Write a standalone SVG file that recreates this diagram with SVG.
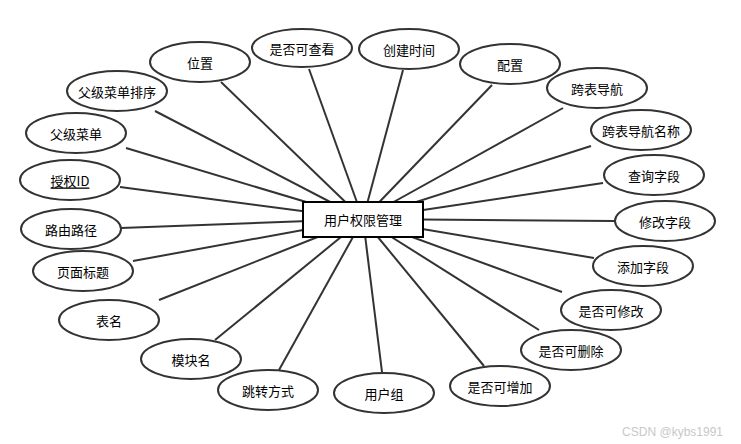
<svg xmlns="http://www.w3.org/2000/svg" width="741" height="444" viewBox="0 0 741 444">
<style>
.e{fill:#fff;stroke:#333;stroke-width:2}
.c line{stroke:#333;stroke-width:2}
text{font-family:"Noto Sans CJK SC","Liberation Sans",sans-serif;font-size:13px;fill:#000;text-anchor:middle;dominant-baseline:central}
</style>
<rect width="741" height="444" fill="#fff"/>
<g id="connectors" class="c">
<line x1="221" y1="82" x2="363" y2="219"/>
<line x1="309" y1="69" x2="363" y2="219"/>
<line x1="403" y1="70" x2="363" y2="219"/>
<line x1="492" y1="85" x2="363" y2="219"/>
<line x1="563" y1="108" x2="363" y2="219"/>
<line x1="591" y1="146" x2="363" y2="219"/>
<line x1="603" y1="183" x2="363" y2="219"/>
<line x1="615" y1="221" x2="363" y2="219"/>
<line x1="594" y1="258" x2="363" y2="219"/>
<line x1="562" y1="292" x2="363" y2="219"/>
<line x1="539" y1="330" x2="363" y2="219"/>
<line x1="484" y1="366" x2="363" y2="219"/>
<line x1="382" y1="372" x2="363" y2="219"/>
<line x1="279" y1="370" x2="363" y2="219"/>
<line x1="215" y1="340" x2="363" y2="219"/>
<line x1="159" y1="300" x2="363" y2="219"/>
<line x1="133" y1="261" x2="363" y2="219"/>
<line x1="121" y1="228" x2="363" y2="219"/>
<line x1="120" y1="187" x2="363" y2="219"/>
<line x1="126" y1="148" x2="363" y2="219"/>
<line x1="155" y1="111" x2="363" y2="219"/>
</g>
<g id="main"><rect x="303" y="202" width="120" height="35" fill="#fff" stroke="#000" stroke-width="2"/><text x="363" y="219.5">用户权限管理</text></g>
<g id="n1"><ellipse class="e" cx="200" cy="62" rx="50" ry="20"/><text x="200" y="62">位置</text></g>
<g id="n2"><ellipse class="e" cx="302" cy="48" rx="50" ry="19"/><text x="302" y="48">是否可查看</text></g>
<g id="n3"><ellipse class="e" cx="409" cy="49" rx="50" ry="20"/><text x="409" y="49">创建时间</text></g>
<g id="n4"><ellipse class="e" cx="510" cy="64" rx="50" ry="20"/><text x="510" y="64">配置</text></g>
<g id="n5"><ellipse class="e" cx="597" cy="88" rx="50" ry="20"/><text x="597" y="88">跨表导航</text></g>
<g id="n6"><ellipse class="e" cx="641" cy="130" rx="50" ry="20"/><text x="641" y="130">跨表导航名称</text></g>
<g id="n7"><ellipse class="e" cx="654" cy="175" rx="50" ry="20"/><text x="654" y="175">查询字段</text></g>
<g id="n8"><ellipse class="e" cx="665" cy="221" rx="50" ry="20"/><text x="665" y="221">修改字段</text></g>
<g id="n9"><ellipse class="e" cx="643" cy="266" rx="50" ry="20"/><text x="643" y="266">添加字段</text></g>
<g id="n10"><ellipse class="e" cx="611" cy="310" rx="50" ry="20"/><text x="611" y="310">是否可修改</text></g>
<g id="n11"><ellipse class="e" cx="571" cy="350" rx="50" ry="20"/><text x="571" y="350">是否可删除</text></g>
<g id="n12"><ellipse class="e" cx="500" cy="386" rx="50" ry="20"/><text x="500" y="386">是否可增加</text></g>
<g id="n13"><ellipse class="e" cx="384" cy="393" rx="50" ry="20"/><text x="384" y="393">用户组</text></g>
<g id="n14"><ellipse class="e" cx="268" cy="390" rx="50" ry="20"/><text x="268" y="390">跳转方式</text></g>
<g id="n15"><ellipse class="e" cx="191" cy="359" rx="50" ry="20"/><text x="191" y="359">模块名</text></g>
<g id="n16"><ellipse class="e" cx="109" cy="320" rx="50" ry="20"/><text x="109" y="320">表名</text></g>
<g id="n17"><ellipse class="e" cx="83" cy="271" rx="50" ry="20"/><text x="83" y="271">页面标题</text></g>
<g id="n18"><ellipse class="e" cx="71" cy="229" rx="50" ry="20"/><text x="71" y="229">路由路径</text></g>
<g id="n19"><ellipse class="e" cx="70" cy="180" rx="50" ry="20"/><text x="70" y="180" text-decoration="underline">授权ID</text></g>
<g id="n20"><ellipse class="e" cx="76" cy="133" rx="50" ry="20"/><text x="76" y="133">父级菜单</text></g>
<g id="n21"><ellipse class="e" cx="117" cy="91" rx="50" ry="20"/><text x="117" y="91">父级菜单排序</text></g>
<text x="723" y="432" style="font-size:12px;fill:#c8c8c8;text-anchor:end;font-family:'Liberation Sans',sans-serif">CSDN @kybs1991</text>
</svg>
